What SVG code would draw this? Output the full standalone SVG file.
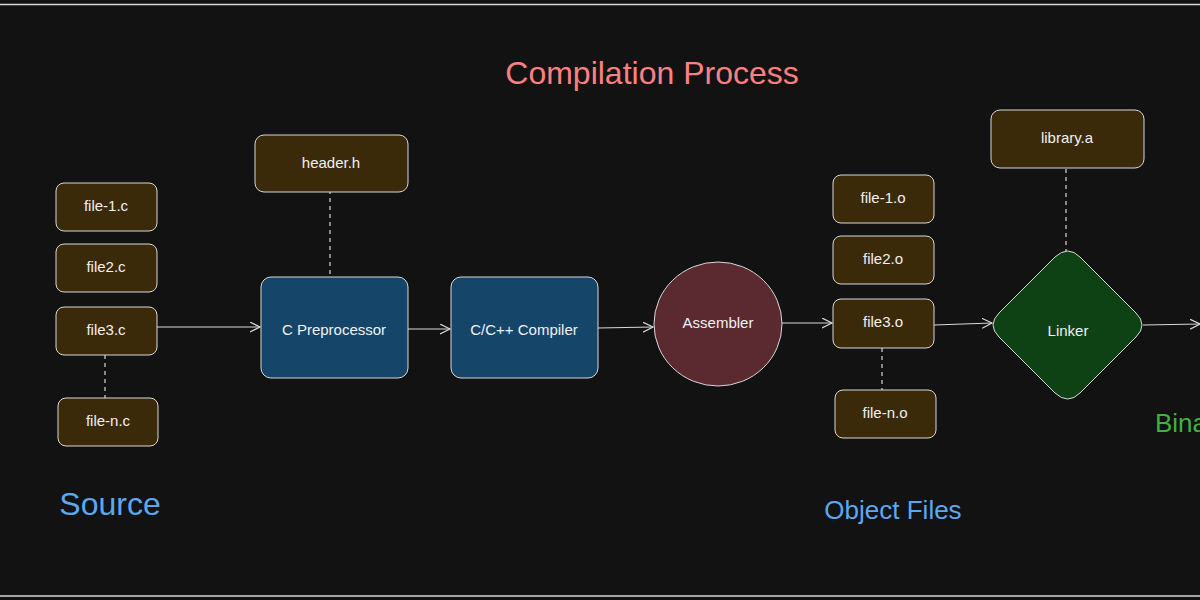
<svg xmlns="http://www.w3.org/2000/svg" width="1200" height="600" viewBox="0 0 1200 600">
<style>
.f{fill:#3a2a0a;stroke:#d8d8d8;stroke-width:1}
.t{font-family:"Liberation Sans",sans-serif;font-size:15px;fill:#f0f0f0;text-anchor:middle;dominant-baseline:middle}
.c{stroke:#d8d8d8;stroke-width:1.2;fill:none}
.d{stroke:#d8d8d8;stroke-width:1.2;stroke-dasharray:4 4;fill:none}
</style>
<defs><marker id="a" markerWidth="12" markerHeight="12" refX="10" refY="5" orient="auto" markerUnits="userSpaceOnUse"><path d="M0,0 L10,5 L0,10" fill="none" stroke="#d8d8d8" stroke-width="1.2"/></marker></defs>
<rect width="1200" height="600" fill="#121212"/>
<line x1="0" y1="4.5" x2="1200" y2="4.5" stroke="#d8d8d8" stroke-width="1.5"/>
<line x1="0" y1="596" x2="1200" y2="596" stroke="#d8d8d8" stroke-width="1.5"/>
<text x="652" y="76" font-family="Liberation Sans,sans-serif" font-size="32" fill="#ff8080" text-anchor="middle" dominant-baseline="middle">Compilation Process</text>
<text x="110" y="507" font-family="Liberation Sans,sans-serif" font-size="32" fill="#5aa8f0" text-anchor="middle" dominant-baseline="middle">Source</text>
<text x="893" y="512" font-family="Liberation Sans,sans-serif" font-size="26" fill="#5aa8f0" text-anchor="middle" dominant-baseline="middle">Object Files</text>
<text x="1155" y="425" font-family="Liberation Sans,sans-serif" font-size="26" fill="#40b040" dominant-baseline="middle">Binary</text>
<g id="connectors">
<path class="c" d="M157,327 L260,327" marker-end="url(#a)"/>
<path class="c" d="M408,329 L450,329" marker-end="url(#a)"/>
<path class="c" d="M598,328 L653,327" marker-end="url(#a)"/>
<path class="c" d="M781,323 L832,323" marker-end="url(#a)"/>
<path class="c" d="M934,325 L992,323" marker-end="url(#a)"/>
<path class="c" d="M1143,325 L1200,324" marker-end="url(#a)"/>
<path class="d" d="M105,355 L105,398"/>
<path class="d" d="M330,182 L330,277"/>
<path class="d" d="M882,348 L882,390"/>
<path class="d" d="M1066,169 L1066,251"/>
</g>
<g id="file1c"><rect class="f" x="56" y="183" width="101" height="48" rx="8"/><text class="t" x="106" y="207">file-1.c</text></g>
<g id="file2c"><rect class="f" x="56" y="244" width="101" height="48" rx="8"/><text class="t" x="106" y="268">file2.c</text></g>
<g id="file3c"><rect class="f" x="56" y="307" width="101" height="48" rx="8"/><text class="t" x="106" y="331">file3.c</text></g>
<g id="filenc"><rect class="f" x="58" y="398" width="100" height="48" rx="8"/><text class="t" x="108" y="422">file-n.c</text></g>
<g id="header"><rect class="f" x="255" y="135" width="153" height="57" rx="9"/><text class="t" x="331" y="164">header.h</text></g>
<g id="cpp"><rect x="261" y="277" width="147" height="101" rx="10" fill="#15466a" stroke="#d8d8d8"/><text class="t" x="334" y="331">C Preprocessor</text></g>
<g id="compiler"><rect x="451" y="277" width="147" height="101" rx="10" fill="#15466a" stroke="#d8d8d8"/><text class="t" x="524" y="331">C/C++ Compiler</text></g>
<g id="assembler"><ellipse cx="718" cy="324" rx="64" ry="62" fill="#5a2a30" stroke="#d8d8d8"/><text class="t" x="718" y="324">Assembler</text></g>
<g id="file1o"><rect class="f" x="833" y="175" width="101" height="48" rx="8"/><text class="t" x="883" y="199">file-1.o</text></g>
<g id="file2o"><rect class="f" x="833" y="236" width="101" height="48" rx="8"/><text class="t" x="883" y="260">file2.o</text></g>
<g id="file3o"><rect class="f" x="833" y="299" width="101" height="49" rx="8"/><text class="t" x="883" y="323">file3.o</text></g>
<g id="fileno"><rect class="f" x="835" y="390" width="101" height="48" rx="8"/><text class="t" x="885" y="414">file-n.o</text></g>
<g id="library"><rect class="f" x="991" y="110" width="153" height="58" rx="9"/><text class="t" x="1067" y="139">library.a</text></g>
<g id="linker"><path d="M1055,257 Q1068,245 1080,257 L1136,313 Q1148,325 1136,337 L1080,393 Q1068,405 1055,393 L999,337 Q987,325 999,313 Z" fill="#0e4214" stroke="#d8d8d8"/><text class="t" x="1068" y="332">Linker</text></g>
</svg>
